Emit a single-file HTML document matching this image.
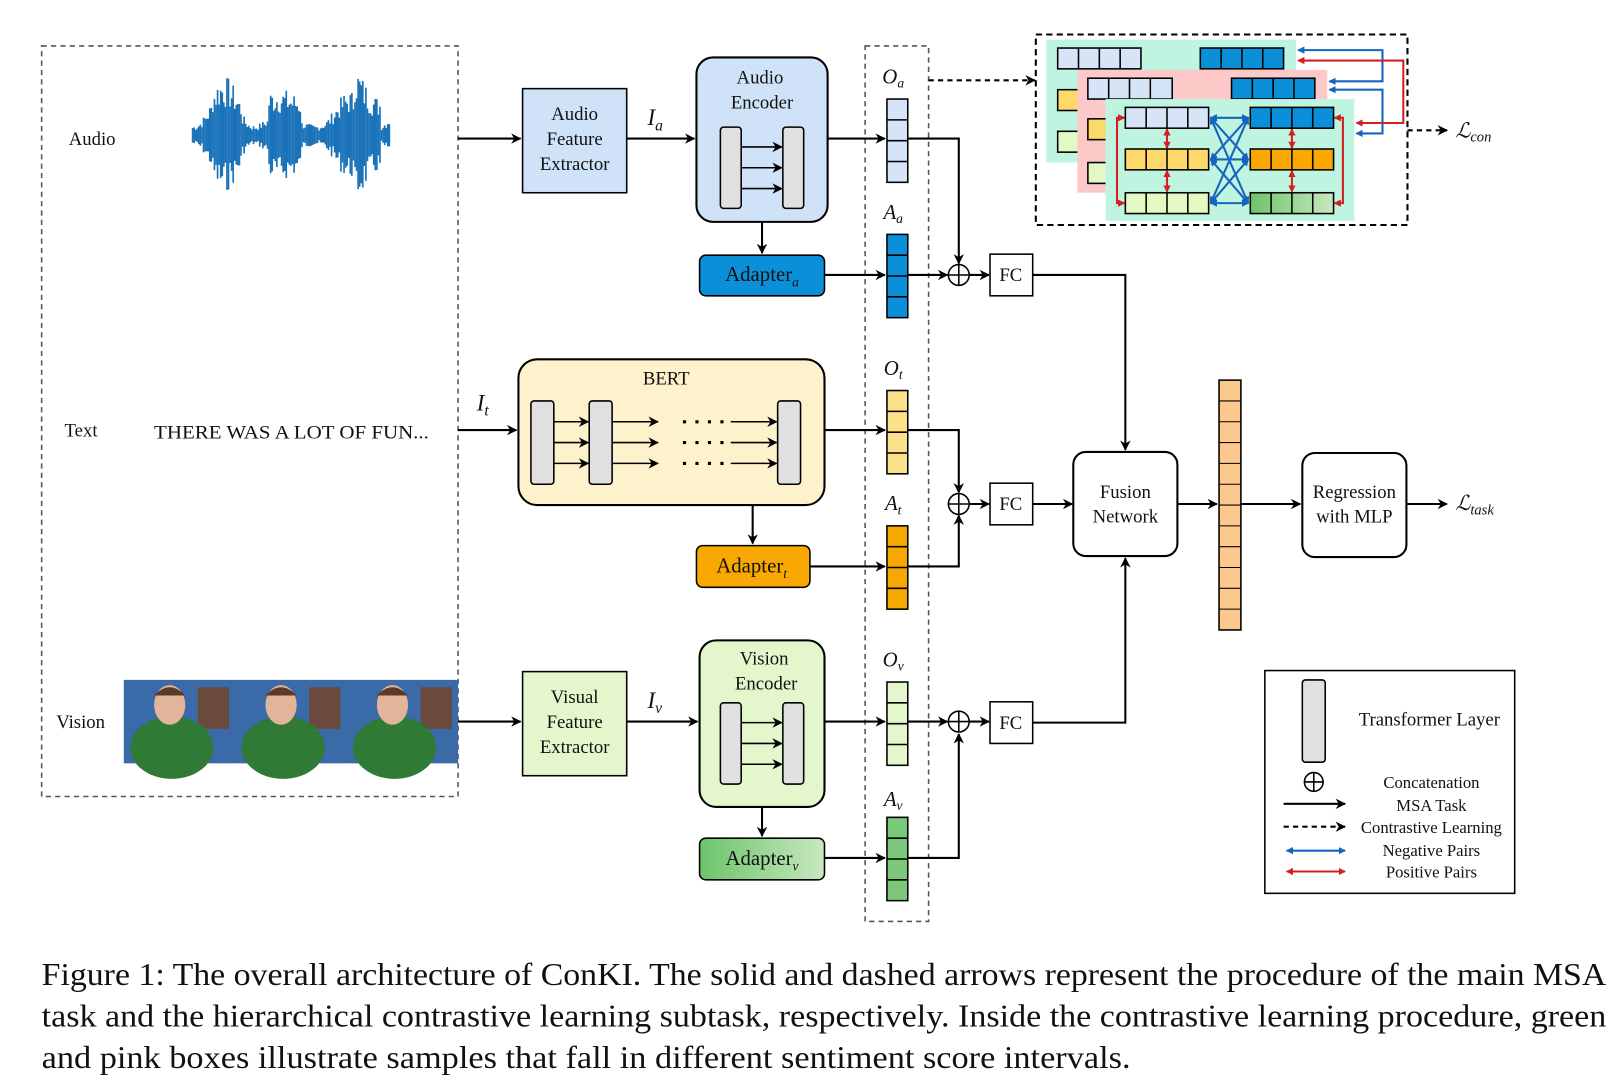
<!DOCTYPE html>
<html><head><meta charset="utf-8"><style>
html,body{margin:0;padding:0;background:#fff;}
svg{display:block;}
text{font-family:"Liberation Serif",serif;fill:#111;}
</style></head><body>
<svg id="s" width="1624" height="1084" viewBox="0 0 1560 1041" xmlns="http://www.w3.org/2000/svg">
<defs>
<marker id="ah" markerWidth="10" markerHeight="10" refX="9" refY="5" orient="auto" markerUnits="userSpaceOnUse"><path d="M0,0 L10,5 L0,10 L3,5 z" fill="#000"/></marker>
<marker id="ab" markerWidth="7" markerHeight="7" refX="6" refY="3.5" orient="auto-start-reverse" markerUnits="userSpaceOnUse"><path d="M0,0 L7,3.5 L0,7 z" fill="#1565c0"/></marker>
<marker id="ar" markerWidth="7" markerHeight="7" refX="6" refY="3.5" orient="auto-start-reverse" markerUnits="userSpaceOnUse"><path d="M0,0 L7,3.5 L0,7 z" fill="#d32020"/></marker>
<linearGradient id="gv" x1="0" x2="1"><stop offset="0" stop-color="#6cc46a"/><stop offset="1" stop-color="#c8e8c0"/></linearGradient>
</defs>
<g fill="none" stroke="#000" stroke-width="2">
<rect x="40" y="44" width="400" height="721" stroke-dasharray="5,4" stroke="#555" stroke-width="1.5"/>
<rect x="831" y="44" width="61" height="841" stroke-dasharray="5,4" stroke="#555" stroke-width="1.5"/>
</g>
<text x="66" y="139" font-size="18">Audio</text>
<text x="62" y="419" font-size="18">Text</text>
<text x="148" y="421" font-size="18" textLength="264" lengthAdjust="spacingAndGlyphs">THERE WAS A LOT OF FUN...</text>
<text x="54" y="699" font-size="18">Vision</text>
<g id="wave" stroke="#1a72b8" stroke-width="1.6"></g>
<g>
<rect x="119" y="653" width="321" height="80" fill="#2c5e9e"/>
<g><rect x="119" y="653" width="107" height="80" fill="#3a6aa8"/><rect x="190" y="660" width="30" height="40" fill="#6a4a3a"/><ellipse cx="165" cy="718" rx="40" ry="30" fill="#2f7a34"/><ellipse cx="163" cy="677" rx="15" ry="19" fill="#e2b49a"/><path d="M148,668 q15,-16 30,0" fill="#5a3a2a"/></g>
<g transform="translate(107,0)"><rect x="119" y="653" width="107" height="80" fill="#3a6aa8"/><rect x="190" y="660" width="30" height="40" fill="#6a4a3a"/><ellipse cx="165" cy="718" rx="40" ry="30" fill="#2f7a34"/><ellipse cx="163" cy="677" rx="15" ry="19" fill="#e2b49a"/><path d="M148,668 q15,-16 30,0" fill="#5a3a2a"/></g>
<g transform="translate(214,0)"><rect x="119" y="653" width="107" height="80" fill="#3a6aa8"/><rect x="190" y="660" width="30" height="40" fill="#6a4a3a"/><ellipse cx="165" cy="718" rx="40" ry="30" fill="#2f7a34"/><ellipse cx="163" cy="677" rx="15" ry="19" fill="#e2b49a"/><path d="M148,668 q15,-16 30,0" fill="#5a3a2a"/></g>
</g>

<g stroke="#000" stroke-width="2" fill="none" marker-end="url(#ah)">
<line x1="440" y1="133" x2="500" y2="133"/>
<line x1="440" y1="413" x2="496" y2="413"/>
<line x1="440" y1="693" x2="500" y2="693"/>
<line x1="602" y1="133" x2="667" y2="133"/>
<line x1="602" y1="693" x2="670" y2="693"/>
<line x1="732" y1="213" x2="732" y2="243"/>
<line x1="723" y1="485" x2="723" y2="522"/>
<line x1="732" y1="775" x2="732" y2="803"/>
<line x1="795" y1="133" x2="850" y2="133"/>
<line x1="792" y1="264" x2="850" y2="264"/>
<line x1="792" y1="413" x2="850" y2="413"/>
<line x1="778" y1="544" x2="850" y2="544"/>
<line x1="792" y1="693" x2="850" y2="693"/>
<line x1="792" y1="824" x2="850" y2="824"/>
<polyline points="872,133 921,133 921,253"/>
<line x1="872" y1="264" x2="910" y2="264"/>
<polyline points="872,413 921,413 921,473"/>
<polyline points="872,544 921,544 921,495"/>
<line x1="872" y1="693" x2="910" y2="693"/>
<polyline points="872,824 921,824 921,705"/>
<line x1="931" y1="264" x2="950" y2="264"/>
<line x1="931" y1="484" x2="950" y2="484"/>
<line x1="931" y1="693" x2="950" y2="693"/>
<polyline points="992,264 1081,264 1081,432"/>
<line x1="992" y1="484" x2="1030" y2="484"/>
<polyline points="992,694 1081,694 1081,536"/>
<line x1="1131" y1="484" x2="1169" y2="484"/>
<line x1="1192" y1="484" x2="1249" y2="484"/>
<line x1="1351" y1="484" x2="1390" y2="484"/>
<line x1="892" y1="77" x2="994" y2="77" stroke-dasharray="5,4"/>
<line x1="1352" y1="125" x2="1390" y2="125" stroke-dasharray="5,4"/>
</g>

<rect x="502" y="85" width="100" height="100" fill="#cfe2f7" stroke="#000" stroke-width="1.5"/>
<text x="552" y="115" font-size="18" text-anchor="middle">Audio</text>
<text x="552" y="139" font-size="18" text-anchor="middle">Feature</text>
<text x="552" y="163" font-size="18" text-anchor="middle">Extractor</text>
<text x="622" y="120" font-size="22" font-style="italic">I<tspan font-size="15" dy="5">a</tspan></text>
<rect x="669" y="55" width="126" height="158" rx="16" fill="#cfe2f7" stroke="#000" stroke-width="2"/>
<text x="730" y="80" font-size="18" text-anchor="middle">Audio</text>
<text x="732" y="104" font-size="18" text-anchor="middle">Encoder</text>
<rect x="692" y="122" width="20" height="78" rx="3" fill="#e0e0e0" stroke="#000" stroke-width="1.5"/>
<rect x="752" y="122" width="20" height="78" rx="3" fill="#e0e0e0" stroke="#000" stroke-width="1.5"/>
<g stroke="#000" stroke-width="1.5" marker-end="url(#ah)"><line x1="712" y1="141" x2="751" y2="141"/><line x1="712" y1="161" x2="751" y2="161"/><line x1="712" y1="181" x2="751" y2="181"/></g>
<rect x="672" y="245" width="120" height="39" rx="6" fill="#0a8fd8" stroke="#000" stroke-width="1.5"/>
<text x="732" y="270" font-size="20" text-anchor="middle">Adapter<tspan font-size="13" dy="5" font-style="italic">a</tspan></text>

<rect x="498" y="345" width="294" height="140" rx="18" fill="#fdf2cc" stroke="#000" stroke-width="2"/>
<text x="640" y="369" font-size="18" text-anchor="middle">BERT</text>
<rect x="510" y="385" width="22" height="80" rx="3" fill="#e0e0e0" stroke="#000" stroke-width="1.5"/>
<rect x="566" y="385" width="22" height="80" rx="3" fill="#e0e0e0" stroke="#000" stroke-width="1.5"/>
<rect x="747" y="385" width="22" height="80" rx="3" fill="#e0e0e0" stroke="#000" stroke-width="1.5"/>
<g stroke="#000" stroke-width="1.5" marker-end="url(#ah)">
<line x1="532" y1="405" x2="565" y2="405"/><line x1="532" y1="425" x2="565" y2="425"/><line x1="532" y1="445" x2="565" y2="445"/>
<line x1="588" y1="405" x2="632" y2="405"/><line x1="588" y1="425" x2="632" y2="425"/><line x1="588" y1="445" x2="632" y2="445"/>
<line x1="702" y1="405" x2="746" y2="405"/><line x1="702" y1="425" x2="746" y2="425"/><line x1="702" y1="445" x2="746" y2="445"/>
</g>
<g stroke="#000" stroke-width="3" stroke-dasharray="3,9"><line x1="656" y1="405" x2="696" y2="405"/><line x1="656" y1="425" x2="696" y2="425"/><line x1="656" y1="445" x2="696" y2="445"/></g>
<text x="458" y="394" font-size="22" font-style="italic">I<tspan font-size="15" dy="5">t</tspan></text>
<rect x="669" y="524" width="109" height="40" rx="6" fill="#f8a800" stroke="#000" stroke-width="1.5"/>
<text x="722" y="550" font-size="20" text-anchor="middle">Adapter<tspan font-size="13" dy="5" font-style="italic">t</tspan></text>

<rect x="502" y="645" width="100" height="100" fill="#e4f7cc" stroke="#000" stroke-width="1.5"/>
<text x="552" y="675" font-size="18" text-anchor="middle">Visual</text>
<text x="552" y="699" font-size="18" text-anchor="middle">Feature</text>
<text x="552" y="723" font-size="18" text-anchor="middle">Extractor</text>
<text x="622" y="680" font-size="22" font-style="italic">I<tspan font-size="15" dy="5">v</tspan></text>
<rect x="672" y="615" width="120" height="160" rx="16" fill="#e4f7cc" stroke="#000" stroke-width="2"/>
<text x="734" y="638" font-size="18" text-anchor="middle">Vision</text>
<text x="736" y="662" font-size="18" text-anchor="middle">Encoder</text>
<rect x="692" y="675" width="20" height="78" rx="3" fill="#e0e0e0" stroke="#000" stroke-width="1.5"/>
<rect x="752" y="675" width="20" height="78" rx="3" fill="#e0e0e0" stroke="#000" stroke-width="1.5"/>
<g stroke="#000" stroke-width="1.5" marker-end="url(#ah)"><line x1="712" y1="694" x2="751" y2="694"/><line x1="712" y1="714" x2="751" y2="714"/><line x1="712" y1="734" x2="751" y2="734"/></g>
<rect x="672" y="805" width="120" height="40" rx="6" fill="url(#gv)" stroke="#000" stroke-width="1.5"/>
<text x="732" y="831" font-size="20" text-anchor="middle">Adapter<tspan font-size="13" dy="5" font-style="italic">v</tspan></text>

<g font-size="20" font-style="italic" text-anchor="middle">
<text x="858" y="80">O<tspan font-size="13" dy="4">a</tspan></text>
<text x="858" y="210">A<tspan font-size="13" dy="4">a</tspan></text>
<text x="858" y="360">O<tspan font-size="13" dy="4">t</tspan></text>
<text x="858" y="490">A<tspan font-size="13" dy="4">t</tspan></text>
<text x="858" y="640">O<tspan font-size="13" dy="4">v</tspan></text>
<text x="858" y="774">A<tspan font-size="13" dy="4">v</tspan></text>
</g>
<g stroke="#000" stroke-width="1.5">
<rect x="852" y="95" width="20" height="80" fill="#d6e4f8"/><path d="M852,115h20M852,135h20M852,155h20"/>
<rect x="852" y="225" width="20" height="80" fill="#0a8fd8"/><path d="M852,245h20M852,265h20M852,285h20"/>
<rect x="852" y="375" width="20" height="80" fill="#fde08a"/><path d="M852,395h20M852,415h20M852,435h20"/>
<rect x="852" y="505" width="20" height="80" fill="#f5a800"/><path d="M852,525h20M852,545h20M852,565h20"/>
<rect x="852" y="655" width="20" height="80" fill="#e4f7cc"/><path d="M852,675h20M852,695h20M852,715h20"/>
<rect x="852" y="785" width="20" height="80" fill="#7cc87a"/><path d="M852,805h20M852,825h20M852,845h20"/>
</g>

<g stroke="#000" stroke-width="1.5" fill="#fff">
<circle cx="921" cy="264" r="10"/><path d="M911,264h20M921,254v20"/>
<circle cx="921" cy="484" r="10"/><path d="M911,484h20M921,474v20"/>
<circle cx="921" cy="693" r="10"/><path d="M911,693h20M921,683v20"/>
</g>
<g stroke="#000" stroke-width="1.5" fill="#fff">
<rect x="951" y="244" width="41" height="40"/><rect x="951" y="464" width="41" height="40"/><rect x="951" y="674" width="41" height="40"/>
</g>
<text x="971" y="270" font-size="18" text-anchor="middle">FC</text>
<text x="971" y="490" font-size="18" text-anchor="middle">FC</text>
<text x="971" y="700" font-size="18" text-anchor="middle">FC</text>

<rect x="1031" y="434" width="100" height="100" rx="12" fill="#fff" stroke="#000" stroke-width="2"/>
<text x="1081" y="478" font-size="18" text-anchor="middle">Fusion</text>
<text x="1081" y="502" font-size="18" text-anchor="middle">Network</text>
<rect x="1171" y="365" width="21" height="240" fill="#fbc98e" stroke="#000" stroke-width="1.5"/>
<path stroke="#000" stroke-width="1" d="M1171,385h21M1171,405h21M1171,425h21M1171,445h21M1171,465h21M1171,485h21M1171,505h21M1171,525h21M1171,545h21M1171,565h21M1171,585h21"/>
<rect x="1251" y="435" width="100" height="100" rx="12" fill="#fff" stroke="#000" stroke-width="2"/>
<text x="1301" y="478" font-size="18" text-anchor="middle">Regression</text>
<text x="1301" y="502" font-size="18" text-anchor="middle">with MLP</text>
<text x="1398" y="490" font-size="20" font-style="italic">ℒ<tspan font-size="14" dy="4">task</tspan></text>
<text x="1398" y="132" font-size="20" font-style="italic">ℒ<tspan font-size="14" dy="4">con</tspan></text>

<rect x="995" y="33" width="357" height="183" fill="none" stroke="#000" stroke-width="2" stroke-dasharray="6,4"/>
<rect x="1005" y="38" width="240" height="118" fill="#bff5e0"/>
<g stroke="#000" stroke-width="1.5">
<rect x="1016" y="46" width="80" height="20" fill="#d6e4f8"/><path d="M1036,46v20M1056,46v20M1076,46v20"/>
<rect x="1153" y="46" width="80" height="20" fill="#0a8fd8"/><path d="M1173,46v20M1193,46v20M1213,46v20"/>
<rect x="1016" y="86" width="40" height="20" fill="#fdd86a"/>
<rect x="1016" y="126" width="40" height="20" fill="#e4f8c4"/>
</g>
<rect x="1035" y="67" width="240" height="118" fill="#fcc8c8"/>
<g stroke="#000" stroke-width="1.5">
<rect x="1045" y="75" width="81" height="20" fill="#d6e4f8"/><path d="M1065,75v20M1085,75v20M1105,75v20"/>
<rect x="1183" y="75" width="80" height="20" fill="#0a8fd8"/><path d="M1203,75v20M1223,75v20M1243,75v20"/>
<rect x="1045" y="114" width="40" height="20" fill="#fdd86a"/>
<rect x="1045" y="156" width="40" height="20" fill="#e4f8c4"/>
</g>
<rect x="1062" y="95" width="239" height="117" fill="#bff5e0"/>
<g stroke="#1565c0" stroke-width="2" marker-start="url(#ab)" marker-end="url(#ab)">
<line x1="1163" y1="113" x2="1199" y2="113"/><line x1="1163" y1="113" x2="1199" y2="153"/><line x1="1163" y1="113" x2="1199" y2="195"/>
<line x1="1163" y1="153" x2="1199" y2="113"/><line x1="1163" y1="153" x2="1199" y2="153"/><line x1="1163" y1="153" x2="1199" y2="195"/>
<line x1="1163" y1="195" x2="1199" y2="113"/><line x1="1163" y1="195" x2="1199" y2="153"/><line x1="1163" y1="195" x2="1199" y2="195"/>
</g>
<g stroke="#d32020" stroke-width="2" fill="none" marker-start="url(#ar)" marker-end="url(#ar)">
<line x1="1121" y1="124" x2="1121" y2="142"/><line x1="1121" y1="164" x2="1121" y2="184"/>
<line x1="1241" y1="124" x2="1241" y2="142"/><line x1="1241" y1="164" x2="1241" y2="184"/>
<polyline points="1080,113 1073,113 1073,195 1080,195"/>
<polyline points="1282,113 1290,113 1290,195 1282,195"/>
</g>
<g stroke="#000" stroke-width="1.5">
<rect x="1081" y="103" width="80" height="20" fill="#d6e4f8"/><path d="M1101,103v20M1121,103v20M1141,103v20"/>
<rect x="1081" y="143" width="80" height="20" fill="#fdd86a"/><path d="M1101,143v20M1121,143v20M1141,143v20"/>
<rect x="1081" y="185" width="80" height="20" fill="#e4f8c4"/><path d="M1101,185v20M1121,185v20M1141,185v20"/>
<rect x="1201" y="103" width="80" height="20" fill="#0a8fd8"/><path d="M1221,103v20M1241,103v20M1261,103v20"/>
<rect x="1201" y="143" width="80" height="20" fill="#f8a800"/><path d="M1221,143v20M1241,143v20M1261,143v20"/>
<rect x="1201" y="185" width="80" height="20" fill="url(#gv)"/><path d="M1221,185v20M1241,185v20M1261,185v20"/>
</g>
<g fill="none" stroke-width="2">
<polyline stroke="#1565c0" points="1247,48 1328,48 1328,78 1277,78" marker-start="url(#ab)" marker-end="url(#ab)"/>
<polyline stroke="#1565c0" points="1277,86 1328,86 1328,128 1303,128" marker-start="url(#ab)" marker-end="url(#ab)"/>
<polyline stroke="#d32020" points="1247,58 1348,58 1348,118 1303,118" marker-start="url(#ar)" marker-end="url(#ar)"/>
</g>

<rect x="1215" y="644" width="240" height="214" fill="#fff" stroke="#000" stroke-width="1.5"/>
<rect x="1251" y="653" width="22" height="79" rx="3" fill="#e0e0e0" stroke="#000" stroke-width="1.5"/>
<text x="1373" y="697" font-size="18" text-anchor="middle">Transformer Layer</text>
<circle cx="1262" cy="751" r="9" fill="#fff" stroke="#000" stroke-width="1.5"/><path d="M1253,751h18M1262,742v18" stroke="#000" stroke-width="1.5"/>
<g font-size="16" text-anchor="middle">
<text x="1375" y="757">Concatenation</text><text x="1375" y="779">MSA Task</text><text x="1375" y="800">Contrastive Learning</text><text x="1375" y="822">Negative Pairs</text><text x="1375" y="843">Positive Pairs</text>
</g>
<line x1="1233" y1="772" x2="1292" y2="772" stroke="#000" stroke-width="2" marker-end="url(#ah)"/>
<line x1="1233" y1="794" x2="1292" y2="794" stroke="#000" stroke-width="2" stroke-dasharray="5,4" marker-end="url(#ah)"/>
<line x1="1236" y1="817" x2="1292" y2="817" stroke="#1565c0" stroke-width="2" marker-start="url(#ab)" marker-end="url(#ab)"/>
<line x1="1236" y1="837" x2="1292" y2="837" stroke="#d32020" stroke-width="2" marker-start="url(#ar)" marker-end="url(#ar)"/>

<g font-size="30">
<text x="40" y="946" textLength="1503" lengthAdjust="spacingAndGlyphs">Figure 1: The overall architecture of ConKI. The solid and dashed arrows represent the procedure of the main MSA</text>
<text x="40" y="986" textLength="1503" lengthAdjust="spacingAndGlyphs">task and the hierarchical contrastive learning subtask, respectively. Inside the contrastive learning procedure, green</text>
<text x="40" y="1026" textLength="1046" lengthAdjust="spacingAndGlyphs">and pink boxes illustrate samples that fall in different sentiment score intervals.</text>
</g>
</svg>
<script>
(function(){var g=document.getElementById('wave'),s='',seed=7;function r(){seed=(seed*9301+49297)%233280;return seed/233280;}
for(var x=185;x<=375;x+=1.5){var t=(x-185)/190;var env=10+38*Math.pow(Math.sin(t*Math.PI*3.2),2)*(0.6+0.4*Math.sin(t*9))+(t>0.38&&t<0.55?25:0)+(t>0.82&&t<0.95?28:0)+(t>0.1&&t<0.25?10:0);var a=env*(0.45+0.55*r());s+='<line x1="'+x+'" y1="'+(130-a)+'" x2="'+x+'" y2="'+(130+a*0.95)+'"/>';}
g.innerHTML=s;})();
</script>
</body></html>
